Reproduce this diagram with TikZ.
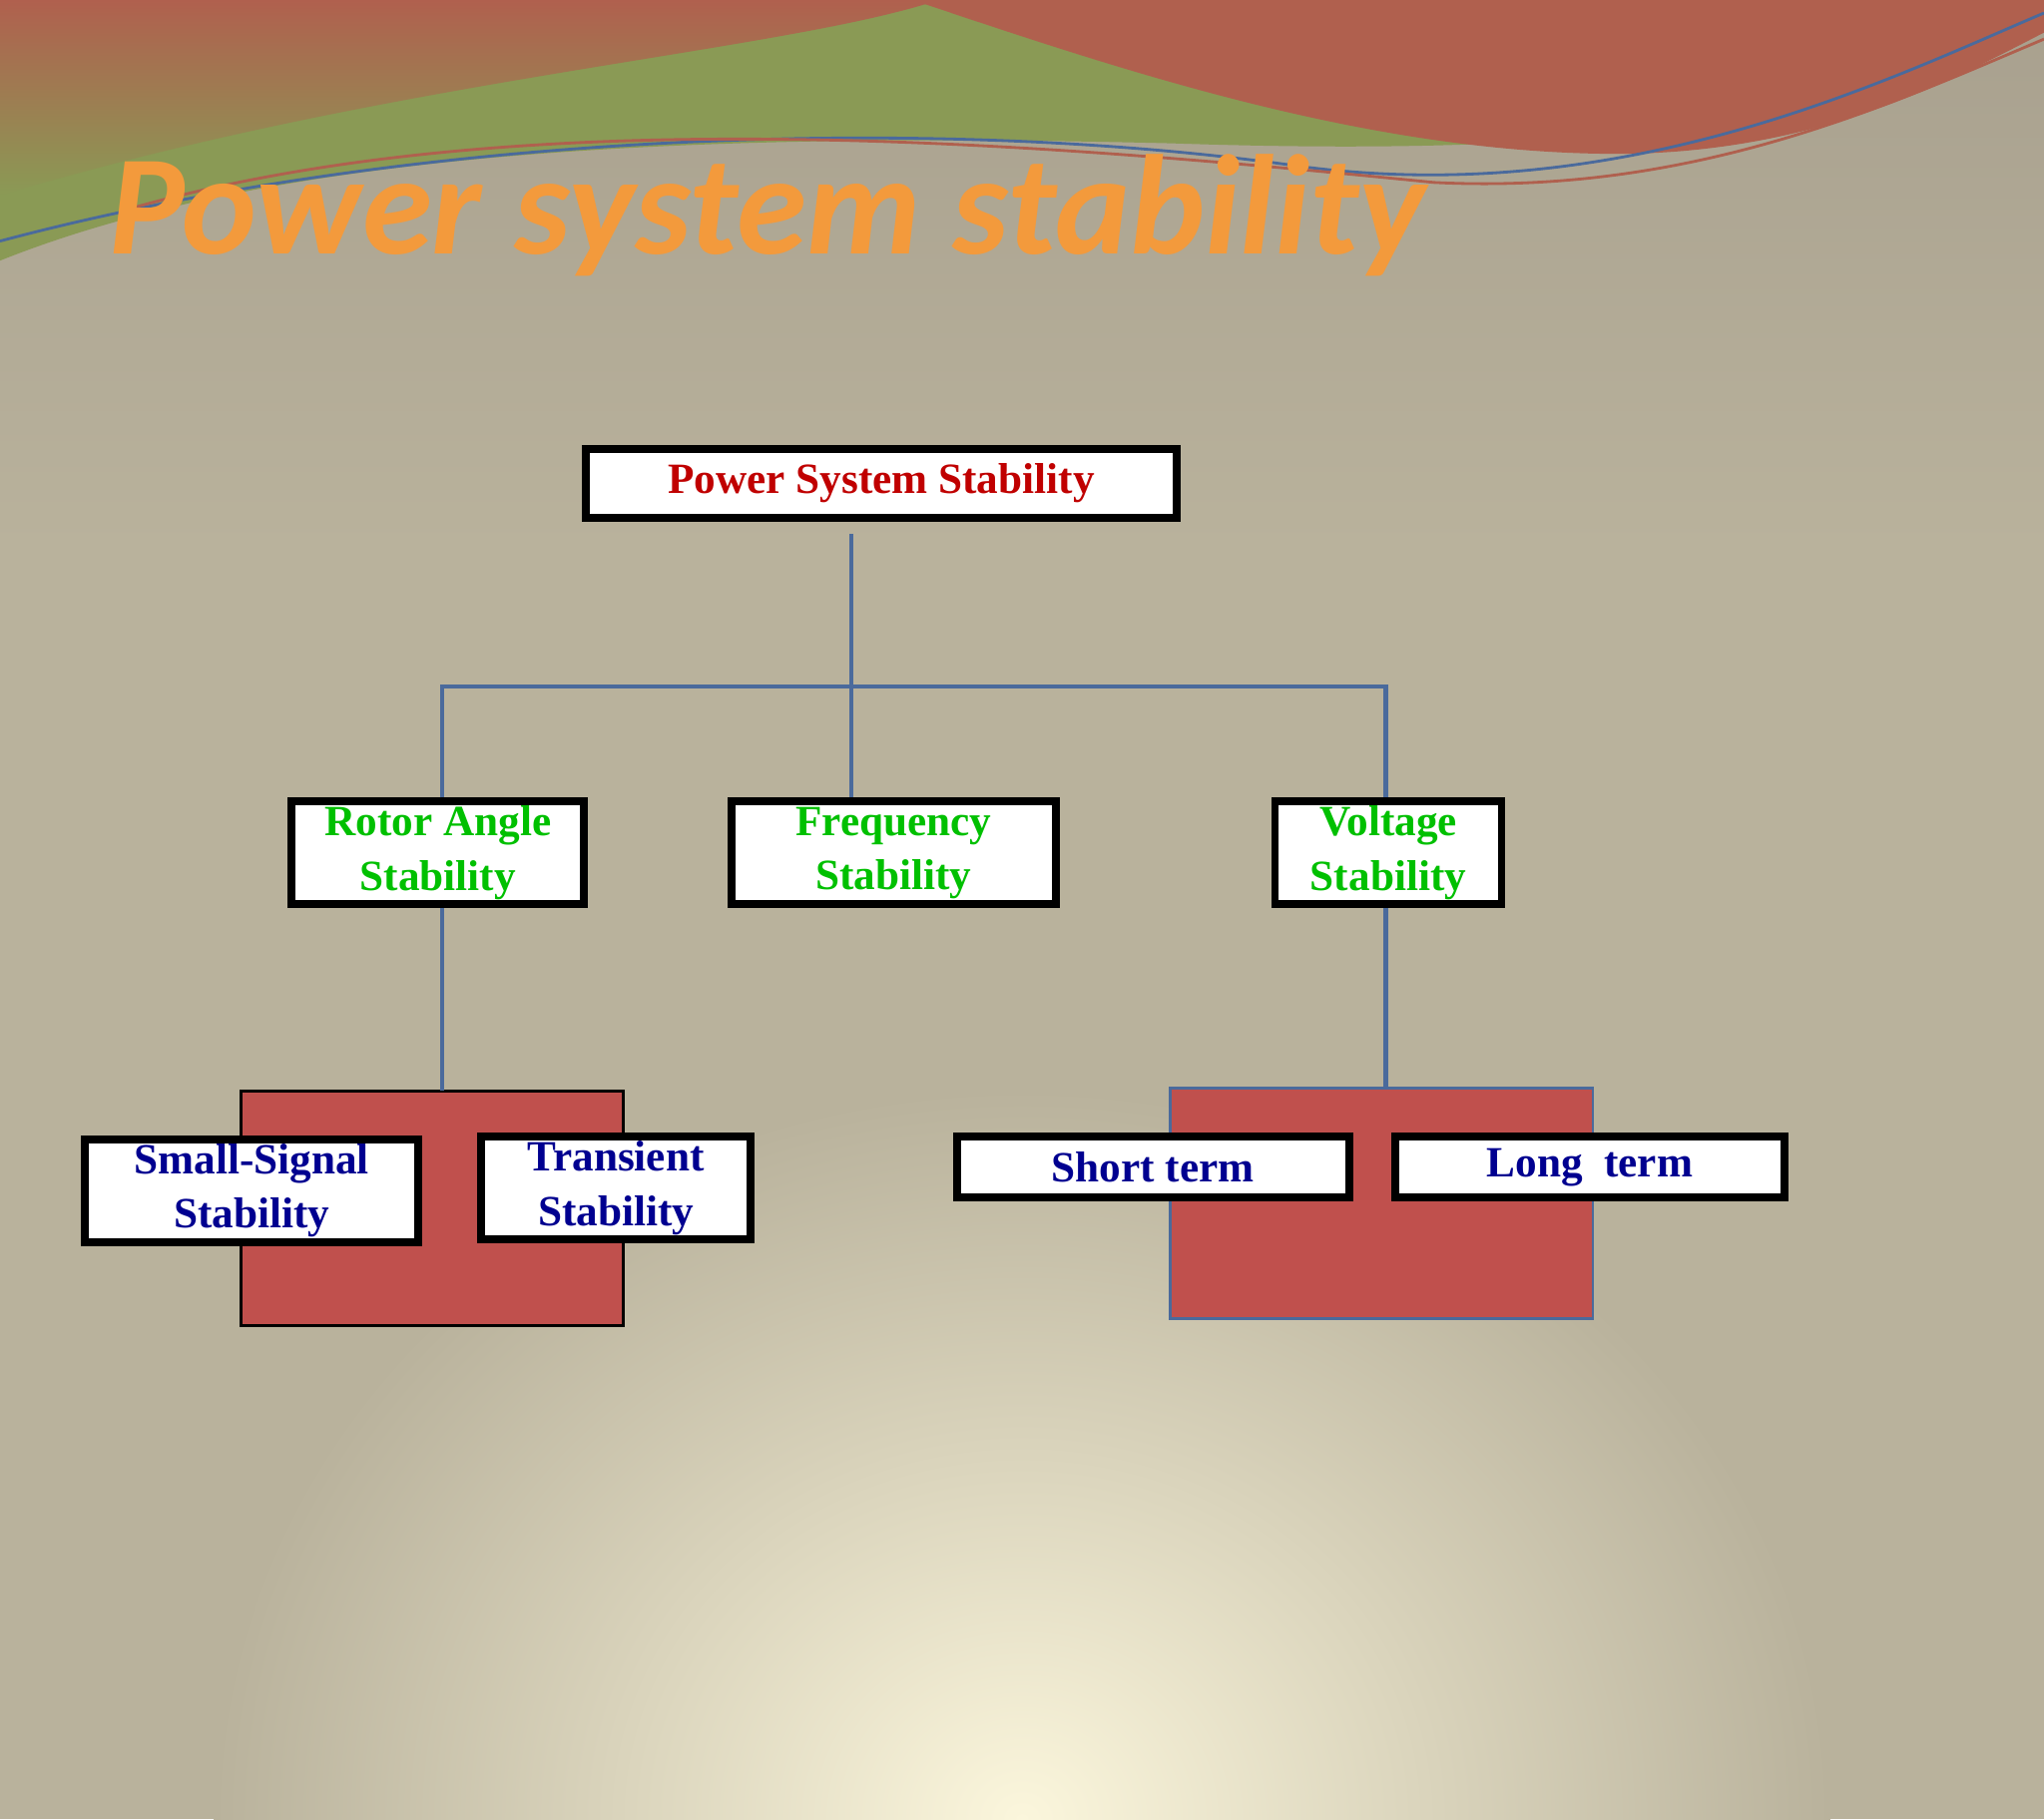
\documentclass[tikz,border=0pt]{standalone}
\usepackage{fontspec}
\setmainfont{Liberation Serif}
\newfontfamily\titlefont{Carlito}
\definecolor{bgmid}{HTML}{B9B29C}
\definecolor{bgtop}{HTML}{A8A08E}
\definecolor{bglight}{HTML}{FBF6DC}
\definecolor{wavered}{HTML}{B0604E}
\definecolor{wavegreen}{HTML}{8A9A55}
\definecolor{linkblue}{HTML}{4A6A9C}
\definecolor{boxred}{HTML}{C0504D}
\definecolor{headred}{HTML}{C00000}
\definecolor{midgreen}{HTML}{00C000}
\definecolor{lowblue}{HTML}{000090}
\definecolor{titleorange}{HTML}{F39A3C}
\tikzset{
	box/.style={draw=black,line width=2.2pt,fill=white,align=center,font=\bfseries\fontsize{12.3}{15.5}\selectfont,inner sep=0pt},
	link/.style={draw=linkblue,line width=1.2pt},
}
\begin{document}
\begin{tikzpicture}[x=0.013061cm,y=-0.013061cm]
	\useasboundingbox (0,0) rectangle (1568,1396);
	% background
	\fill[bgmid] (0,0) rectangle (1568,1396);
	\shade[inner color=bglight,outer color=bgmid] (784,1396) ellipse (620 and 560);
	\shade[top color=bgtop,bottom color=bgmid] (0,0) rectangle (1568,420);
	% waves
	\fill[wavegreen] (0,0) -- (1568,0) -- (1568,20) .. controls (1400,100) and (1200,120) .. (900,110) .. controls (500,100) and (200,120) .. (0,200) -- cycle;
	\shade[top color=wavered,bottom color=wavegreen] (0,0) -- (720,0) .. controls (600,40) and (300,60) .. (0,150) -- cycle;
	\fill[wavered] (700,0) .. controls (850,50) and (1050,120) .. (1250,118) .. controls (1400,115) and (1500,60) .. (1568,25) -- (1568,0) -- cycle;
	\draw[linkblue,line width=0.8pt] (0,185) .. controls (300,105) and (700,85) .. (1000,128) .. controls (1250,160) and (1450,60) .. (1568,10);
	\draw[wavered,line width=0.8pt] (100,160) .. controls (400,75) and (800,110) .. (1100,140) .. controls (1300,150) and (1450,80) .. (1568,30);
	% title
	\node[font=\titlefont\bfseries\itshape\fontsize{40.5}{46}\selectfont,text=titleorange,anchor=west] (title) at (74,165) {Power system stability};
	% boxes
	\fill[boxred,draw=black,line width=0.8pt] (185,837) rectangle (478,1017);
	\fill[boxred,draw=linkblue,line width=0.8pt] (898,835) rectangle (1222,1012);
	\node[box,text=headred,minimum width=5.92cm,minimum height=0.69cm] (pss) at (676,371) {Power System Stability};
	\node[box,text=midgreen,minimum width=2.93cm,minimum height=1.03cm] (rotor) at (336,654.5) {Rotor Angle\\Stability};
	\node[box,text=midgreen,minimum width=3.25cm,minimum height=1.03cm] (freq) at (685.5,654.5) {Frequency\\Stability};
	\node[box,text=midgreen,minimum width=2.27cm,minimum height=1.03cm] (volt) at (1065,654.5) {Voltage\\Stability};
	\node[box,text=lowblue,minimum width=3.34cm,minimum height=1.03cm] (small) at (193,913.5) {Small-Signal\\Stability};
	\node[box,text=lowblue,minimum width=2.70cm,minimum height=1.03cm] (trans) at (472.5,911.5) {Transient\\Stability};
	\node[box,text=lowblue,minimum width=3.93cm,minimum height=0.61cm] (short) at (884.5,895.5) {Short term};
	\node[box,text=lowblue,minimum width=3.9cm,minimum height=0.61cm] (long) at (1219.5,895.5) {Long~~term};
	% links
	\coordinate (stem) at (653,410);
	\coordinate (fork) at (653,527);
	\path[link] (stem) -- (fork);
	\path[link] (fork) -- (653,0 |- freq.north);
	\path[link] (rotor.north -| 339,0) |- (fork) -| (volt.north -| 1063,0);
	\path[link] (rotor.south -| 339,0) -- (339,837);
	\path[link] (volt.south -| 1063,0) -- (1063,835);
\end{tikzpicture}
\end{document}
